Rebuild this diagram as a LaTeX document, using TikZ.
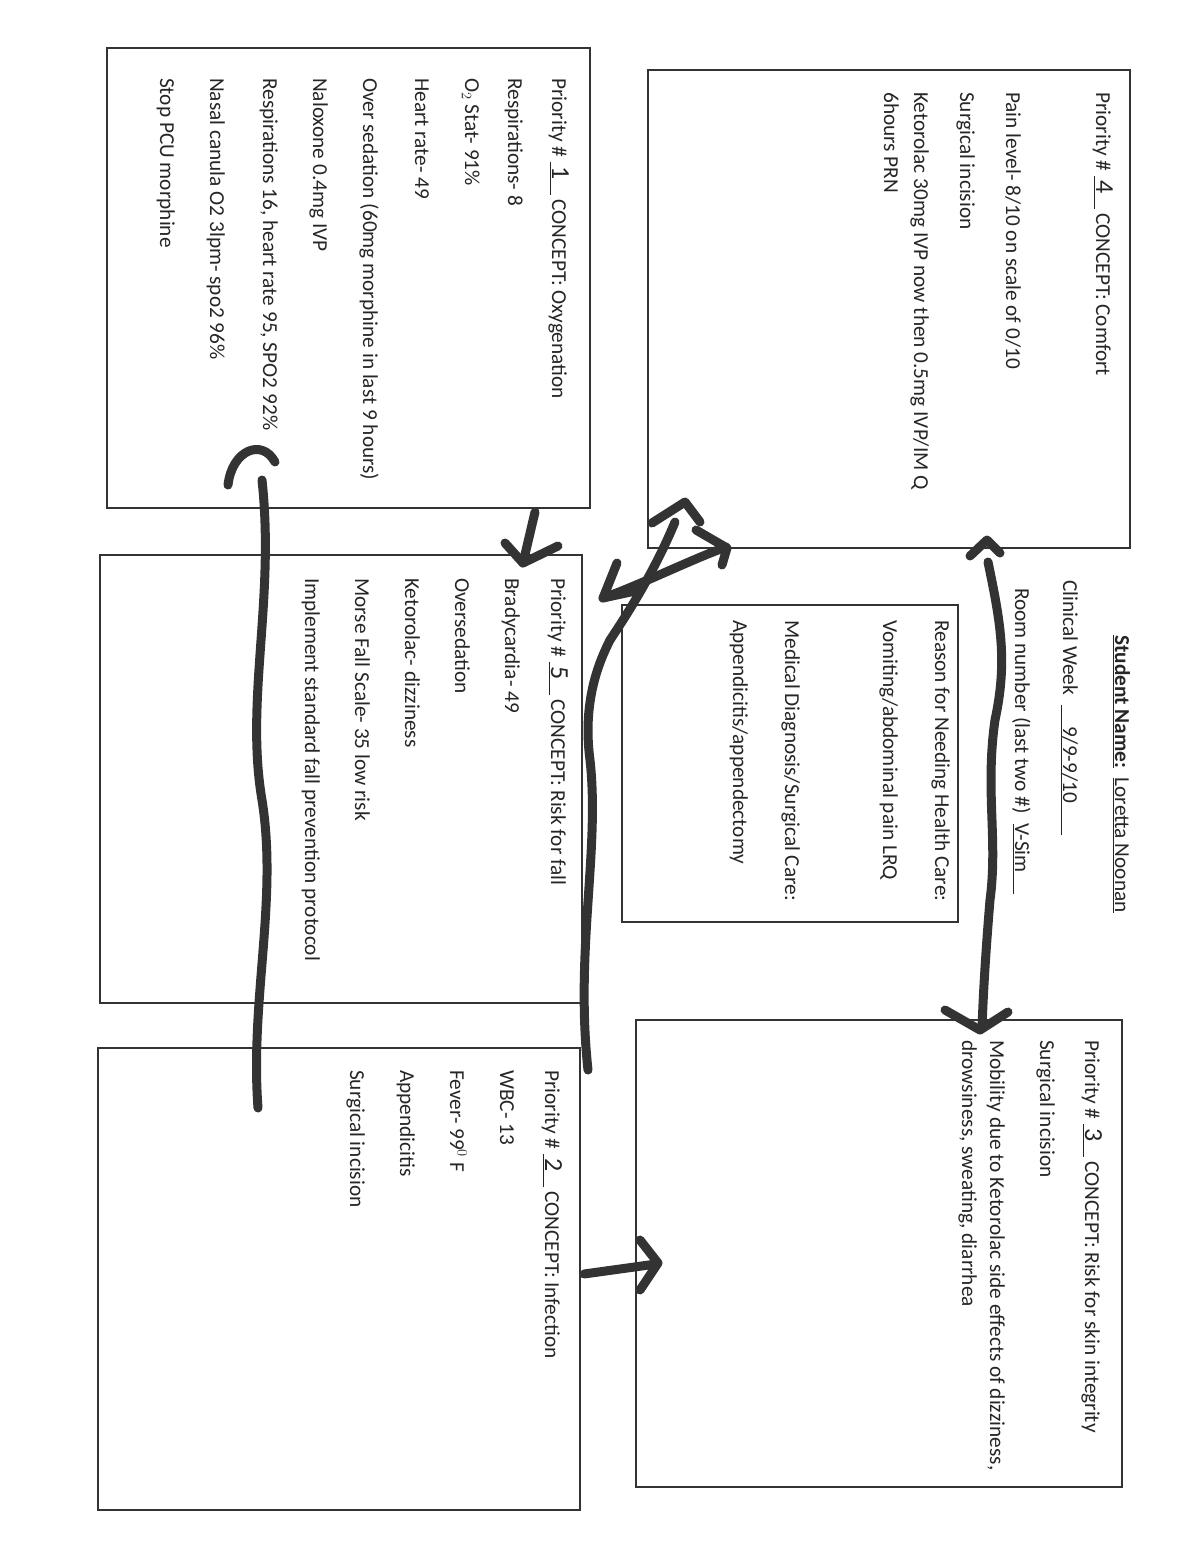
\documentclass[tikz,border=0pt]{standalone}
\usepackage{fontspec}
\setmainfont{Carlito}
\newcommand{\pnum}[1]{\underline{\ {\fontsize{26}{26}\selectfont #1}\ \ \ }}
\begin{document}
\begin{tikzpicture}[x=1pt,y=-1pt,
  box/.style={draw=black!80,line width=1.2pt},
  txt/.style={rotate=-90,anchor=base west,inner sep=0pt,font=\fontsize{21.3}{23}\selectfont,text=black!85},
  pen/.style={draw=black!80,line width=9pt,line cap=round,line join=round}]
\useasboundingbox[fill=white] (0,0) rectangle (1200,1553);
% boxes
\draw[box] (107,48) rectangle (590,508);
\draw[box] (648,70) rectangle (1130,548);
\draw[box] (100,555) rectangle (582,1003);
\draw[box] (622,605) rectangle (958,922);
\draw[box] (98,1048) rectangle (580,1510);
\draw[box] (636,1020) rectangle (1122,1487);
% header
\node[txt] (sn) at (1115,635) {\textbf{\underline{Student Name:}}\ \ \underline{Loretta Noonan}};
\node[txt] (cw) at (1063,580) {Clinical Week\ \ \underline{\hspace{1em}9/9-9/10\hspace{1.5em}}};
\node[txt] (rn) at (1015,588) {Room number (last two \#)\ \ \underline{V-Sim\hspace{1em}}};
% box 4
\node[txt] at (1096,92) {Priority \# \pnum{4} CONCEPT: Comfort};
\node[txt] at (1006,92) {Pain level- 8/10 on scale of 0/10};
\node[txt] at (960,92) {Surgical incision};
\node[txt] at (914,92) {Ketorolac 30mg IVP now then 0.5mg IVP/IM Q};
\node[txt] at (884,92) {6hours PRN};
% box 1
\node[txt] at (552,78) {Priority \# \pnum{1} CONCEPT: Oxygenation};
\node[txt] at (508,78) {Respirations- 8};
\node[txt] at (465,78) {O$_2$ Stat- 91\%};
\node[txt] at (415,78) {Heart rate- 49};
\node[txt] at (363,78) {Over sedation (60mg morphine in last 9 hours)};
\node[txt] at (313,78) {Naloxone 0.4mg IVP};
\node[txt] at (263,78) {Respirations 16, heart rate 95, SPO2 92\%};
\node[txt] at (210,78) {Nasal canula O2 3lpm- spo2 96\%};
\node[txt] at (160,78) {Stop PCU morphine};
% box 5
\node[txt] at (551,578) {Priority \# \pnum{5} CONCEPT: Risk for fall};
\node[txt] at (505,578) {Bradycardia- 49};
\node[txt] at (455,578) {Oversedation};
\node[txt] at (405,578) {Ketorolac- dizziness};
\node[txt] at (355,578) {Morse Fall Scale- 35 low risk};
\node[txt] at (305,578) {Implement standard fall prevention protocol};
% center
\node[txt] at (935,620) {Reason for Needing Health Care:};
\node[txt] at (883,620) {Vomiting/abdominal pain LRQ};
\node[txt] at (785,620) {Medical Diagnosis/Surgical Care:};
\node[txt] at (733,620) {Appendicitis/appendectomy};
% box 2
\node[txt] at (545,1070) {Priority \# \pnum{2} CONCEPT: Infection};
\node[txt] at (500,1070) {WBC- 13};
\node[txt] at (450,1070) {Fever- 99$^{0}$ F};
\node[txt] at (400,1070) {Appendicitis};
\node[txt] at (350,1070) {Surgical incision};
% box 3
\node[txt] at (1085,1040) {Priority \# \pnum{3} CONCEPT: Risk for skin integrity};
\node[txt] at (1040,1040) {Surgical incision};
\node[txt] at (990,1040) {Mobility due to Ketorolac side effects of dizziness,};
\node[txt] at (962,1040) {drowsiness, sweating, diarrhea};
% hand-drawn connectors
\coordinate (a1) at (262,480);
\coordinate (a2) at (258,1108);
\draw[pen] (228,485) .. controls (232,450) and (262,438) .. (275,462);
\draw[pen] (a1) .. controls (275,600) and (245,700) .. (262,800) .. controls (278,900) and (250,1000) .. (a2);
\draw[pen] (535,512) -- (523,563);
\draw[pen] (505,543) -- (523,563) -- (558,546);
\draw[pen] (588,1070) .. controls (575,950) and (600,850) .. (590,760) .. controls (582,700) and (600,660) .. (610,640) .. controls (630,610) and (655,570) .. (675,522);
\draw[pen] (652,523) -- (685,502) -- (700,522);
\draw[pen] (603,598) .. controls (640,585) and (690,560) .. (726,547);
\draw[pen] (617,563) -- (603,598) -- (640,590);
\draw[pen] (696,530) -- (727,548) -- (722,565);
\draw[pen] (988,562) .. controls (1000,620) and (1008,660) .. (995,720) .. controls (985,790) and (998,840) .. (990,900) .. controls (985,960) and (983,1000) .. (982,1028);
\draw[pen] (970,556) -- (987,540) -- (1000,553);
\draw[pen] (945,1010) -- (980,1030) -- (1008,1012);
\draw[pen] (584,1274) -- (656,1264);
\draw[pen] (640,1240) -- (658,1263) -- (640,1290);
\end{tikzpicture}
\end{document}
